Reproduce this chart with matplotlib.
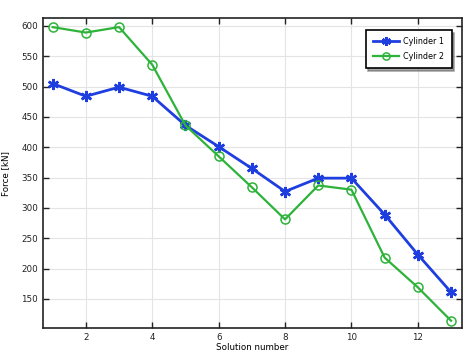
import matplotlib
matplotlib.use("Agg")
import matplotlib.pyplot as plt

solution = list(range(1, 14))
cylinder1 = [505, 484, 499, 484, 436, 401, 365, 327, 349, 349, 289, 223, 161]
cylinder2 = [598, 589, 598, 536, 436, 385, 334, 281, 337, 330, 218, 169, 114]
xticks = [2, 4, 6, 8, 10, 12]
yticks = [150, 200, 250, 300, 350, 400, 450, 500, 550, 600]

plt.rcParams['font.family'] = ['DejaVu Sans']
fig = plt.figure(figsize=(4.74, 3.56), dpi=100)
ax = fig.add_axes([43/474, 1-328/356, (462-43)/474, (328-18)/356])

ax.plot(solution, cylinder1, color='#1f3ee0', lw=2, marker=(6, 2, 0), ms=8, mew=1.8,
        label='Cylinder 1')
ax.plot(solution, cylinder2, color='#2eb33a', lw=1.6, marker='o', ms=6.5, mfc='none',
        mew=1.1, label='Cylinder 2')

ax.set_xlim(0.71, 13.33)
ax.set_ylim(102, 613)
ax.set_xticks(xticks)
ax.set_yticks(yticks)
ax.grid(True, color='#e4e4e4', lw=0.8)
ax.tick_params(direction='in', top=True, right=True, labelsize=6.3, length=4,
               width=1, colors='#222222', labelcolor='#222222')
for s in ax.spines.values():
    s.set_linewidth(1.2)
    s.set_color('#222222')
ax.set_xlabel('Solution number', fontsize=6.3, labelpad=1)
ax.set_ylabel('Force [kN]', fontsize=6.3, labelpad=8)

leg = ax.legend(loc='upper right', bbox_to_anchor=(0.985, 0.975), fontsize=5.8,
                fancybox=False, shadow={'ox': 2, 'oy': -2, 'color': '#555555'},
                edgecolor='black', framealpha=1, markerscale=0.8,
                handlelength=3.2, borderpad=0.9, labelspacing=0.75, handletextpad=0.6)
leg.get_frame().set_linewidth(1.2)

fig.savefig('out.png', dpi=100)
